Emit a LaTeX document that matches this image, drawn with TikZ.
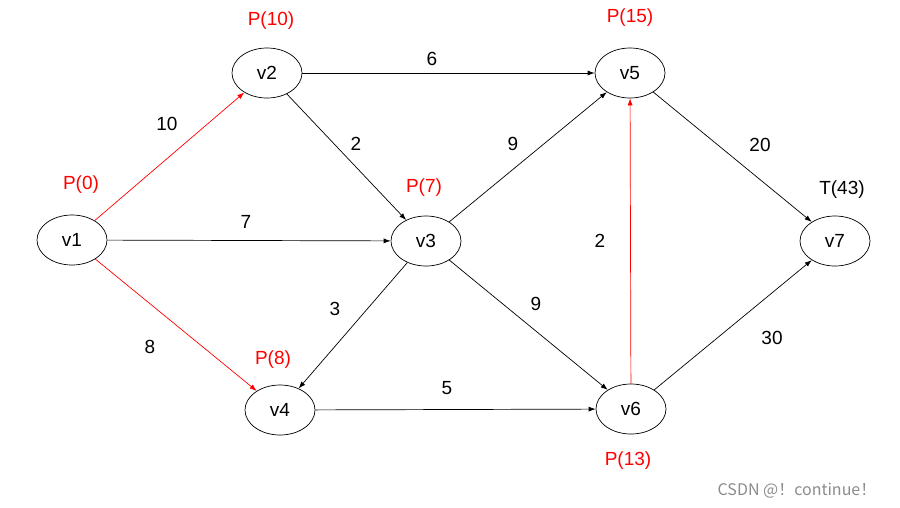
\documentclass[tikz,border=0pt]{standalone}
\usepackage{fontspec}
\setmainfont{Liberation Sans}
\newfontfamily\cjk{Noto Sans CJK SC}
\usetikzlibrary{shapes.geometric,arrows.meta}
\begin{document}
\begin{tikzpicture}[x=1pt,y=1pt,line width=0.7pt,>={Latex[length=7pt,width=5pt]},font=\fontsize{19}{21}\selectfont]
    \tikzstyle{vertex}=[ellipse,draw,minimum width=70pt,minimum height=50pt,inner sep=0pt]
    \tikzstyle{plabel}=[text=red]
    \tikzstyle{red edge}=[->,draw=red]
    \tikzstyle{black edge}=[->,draw=black]
    \useasboundingbox (0,0) rectangle (900,-507);

    \node[vertex] (v1) at (72,-240) {v1};
    \node[vertex] (v2) at (267,-73) {v2};
    \node[vertex] (v3) at (426,-241) {v3};
    \node[vertex] (v4) at (280,-410) {v4};
    \node[vertex] (v5) at (630,-73) {v5};
    \node[vertex] (v6) at (631,-409) {v6};
    \node[vertex] (v7) at (835,-241) {v7};

    \node[plabel] (p1) at (81,-185) {P(0)};
    \node[plabel] (p2) at (271,-21) {P(10)};
    \node[plabel] (p3) at (424,-188) {P(7)};
    \node[plabel] (p4) at (273,-360) {P(8)};
    \node[plabel] (p5) at (630,-18) {P(15)};
    \node[plabel] (p6) at (628,-461) {P(13)};
    \node (p7) at (842,-190) {T(43)};

    \path (v1) edge[red edge] (v2);
    \path (v1) edge[black edge] (v3);
    \path (v1) edge[red edge] (v4);
    \path (v2) edge[black edge] (v5);
    \path (v2) edge[black edge] (v3);
    \path (v3) edge[black edge] (v5);
    \path (v3) edge[black edge] (v4);
    \path (v3) edge[black edge] (v6);
    \path (v4) edge[black edge] (v6);
    \path (v6) edge[red edge] (v5);
    \path (v5) edge[black edge] (v7);
    \path (v6) edge[black edge] (v7);

    \node (w12) at (167,-124) {10};
    \node (w25) at (432,-59) {6};
    \node (w23) at (356,-144) {2};
    \node (w13) at (246,-222) {7};
    \node (w35) at (513,-144) {9};
    \node (w65) at (600,-241) {2};
    \node (w36) at (536,-304) {9};
    \node (w34) at (335,-309) {3};
    \node (w14) at (150,-347) {8};
    \node (w46) at (447,-388) {5};
    \node (w57) at (760,-145) {20};
    \node (w67) at (772,-338) {30};

    \node[text=black!45,font=\cjk\fontsize{16}{18}\selectfont] (wm) at (797,-491) {CSDN @！continue！};
\end{tikzpicture}
\end{document}
